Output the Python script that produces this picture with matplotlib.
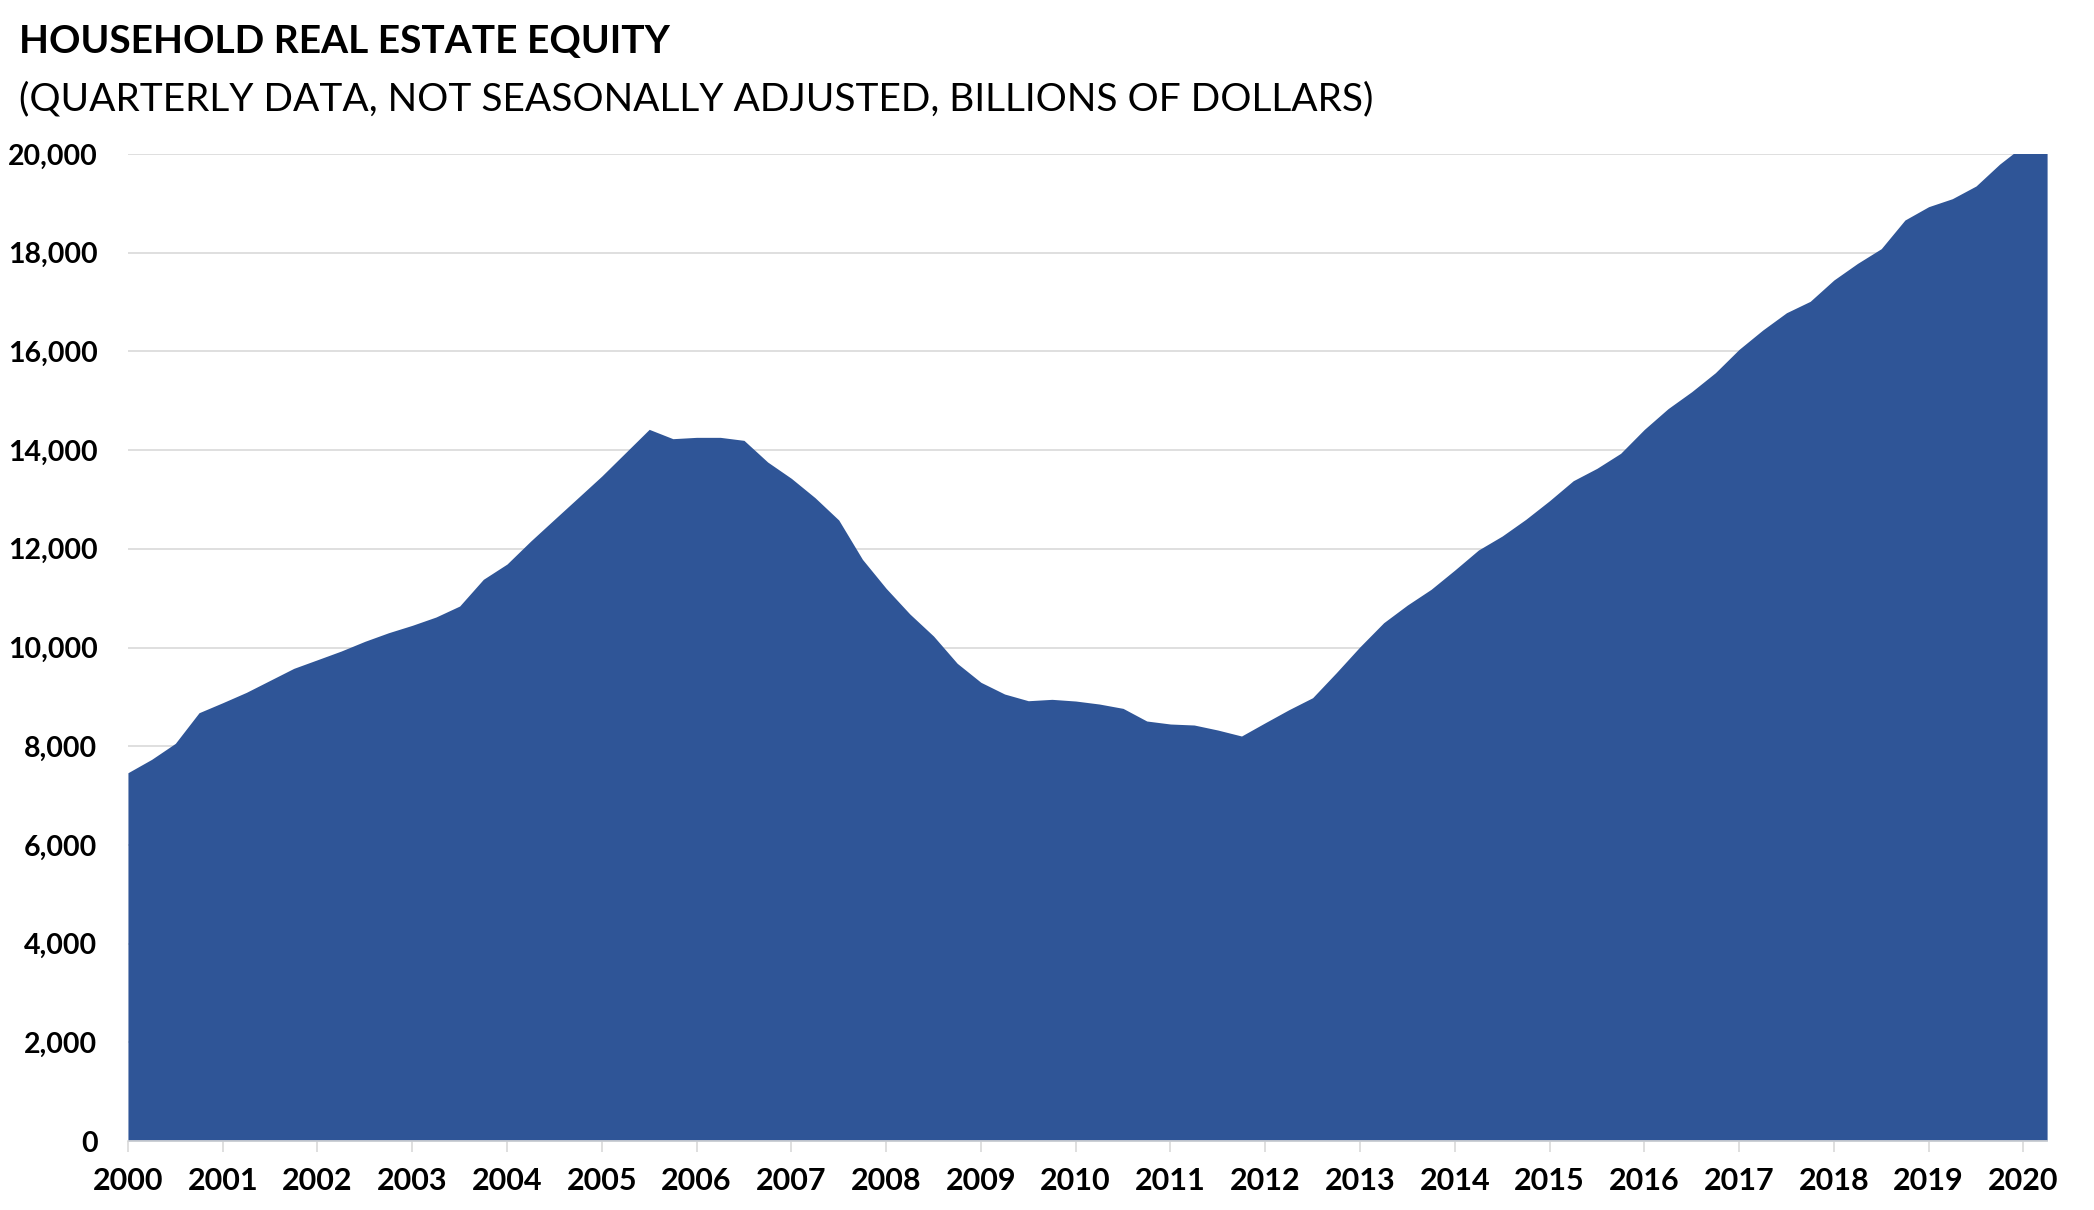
import numpy as np
import matplotlib
matplotlib.use("Agg")
import matplotlib.pyplot as plt
from matplotlib.ticker import FuncFormatter

# Household real estate equity, quarterly, 2000Q1 - 2020Q2 (billions of dollars)
start_year = 2000
equity = [
    7463, 7734, 8058, 8679,      # 2000
    8882, 9092, 9335, 9578,      # 2001
    9753, 9929, 10126, 10300,    # 2002
    10450, 10618, 10841, 11382,  # 2003
    11692, 12158, 12598, 13036,  # 2004
    13475, 13948, 14421, 14232,  # 2005
    14259, 14259, 14198, 13759,  # 2006
    13428, 13036, 12584, 11787,  # 2007
    11199, 10680, 10233, 9680,   # 2008
    9295, 9058, 8922, 8950,      # 2009
    8916, 8855, 8767, 8511,      # 2010
    8450, 8430, 8328, 8207,      # 2011
    8476, 8740, 8983, 9490,      # 2012
    10016, 10503, 10861, 11179,  # 2013
    11570, 11976, 12259, 12598,  # 2014
    12975, 13380, 13631, 13935,  # 2015
    14420, 14840, 15184, 15569,  # 2016
    16042, 16434, 16784, 17015,  # 2017
    17447, 17784, 18082, 18663,  # 2018
    18933, 19095, 19352, 19797,  # 2019
    20170, 20400,                # 2020
]
year_ticks = list(range(2000, 2021))
y_ticks = list(range(0, 20001, 2000))

title = "HOUSEHOLD REAL ESTATE EQUITY"
subtitle = "(QUARTERLY DATA, NOT SEASONALLY ADJUSTED, BILLIONS OF DOLLARS)"

fill_color = "#2F5597"
grid_color = "#D9D9D9"
font = ["Lato", "DejaVu Sans"]

quarters = start_year + np.arange(len(equity)) / 4.0

fig = plt.figure(figsize=(20.94, 12.10), dpi=100)
ax = fig.add_axes([0.0611, 0.0570, 0.9776 - 0.0611, 0.8727 - 0.0570])

ax.fill_between(quarters, equity, 0, color=fill_color, linewidth=0, zorder=2)

ax.set_xlim(quarters[0], quarters[-1])
ax.set_ylim(0, 20000)
ax.set_xticks(year_ticks)
ax.set_yticks(y_ticks)
ax.yaxis.set_major_formatter(FuncFormatter(lambda v, p: f"{v:,.0f}"))

ax.set_axisbelow(True)
ax.grid(axis="y", color=grid_color, linewidth=1.2, zorder=0)
for s in ["top", "right", "left"]:
    ax.spines[s].set_visible(False)
ax.spines["bottom"].set_color(grid_color)
ax.spines["bottom"].set_linewidth(1.2)

ax.tick_params(axis="x", length=8, width=1.2, color=grid_color, pad=11)
ax.tick_params(axis="y", length=0, pad=22)
for lbl in ax.get_xticklabels():
    lbl.set_family(font)
    lbl.set_fontweight("bold")
    lbl.set_fontsize(22)
for lbl in ax.get_yticklabels():
    lbl.set_family(font)
    lbl.set_fontweight("bold")
    lbl.set_fontsize(20.5)

fig.text(0.0091, 1 - 53 / 1210, title, family=font, fontweight="bold",
         fontsize=28, va="baseline", ha="left")
fig.text(0.0091, 1 - 110 / 1210, subtitle, family=font, fontsize=28,
         va="baseline", ha="left")

fig.savefig("out.png", dpi=100, facecolor="white")
